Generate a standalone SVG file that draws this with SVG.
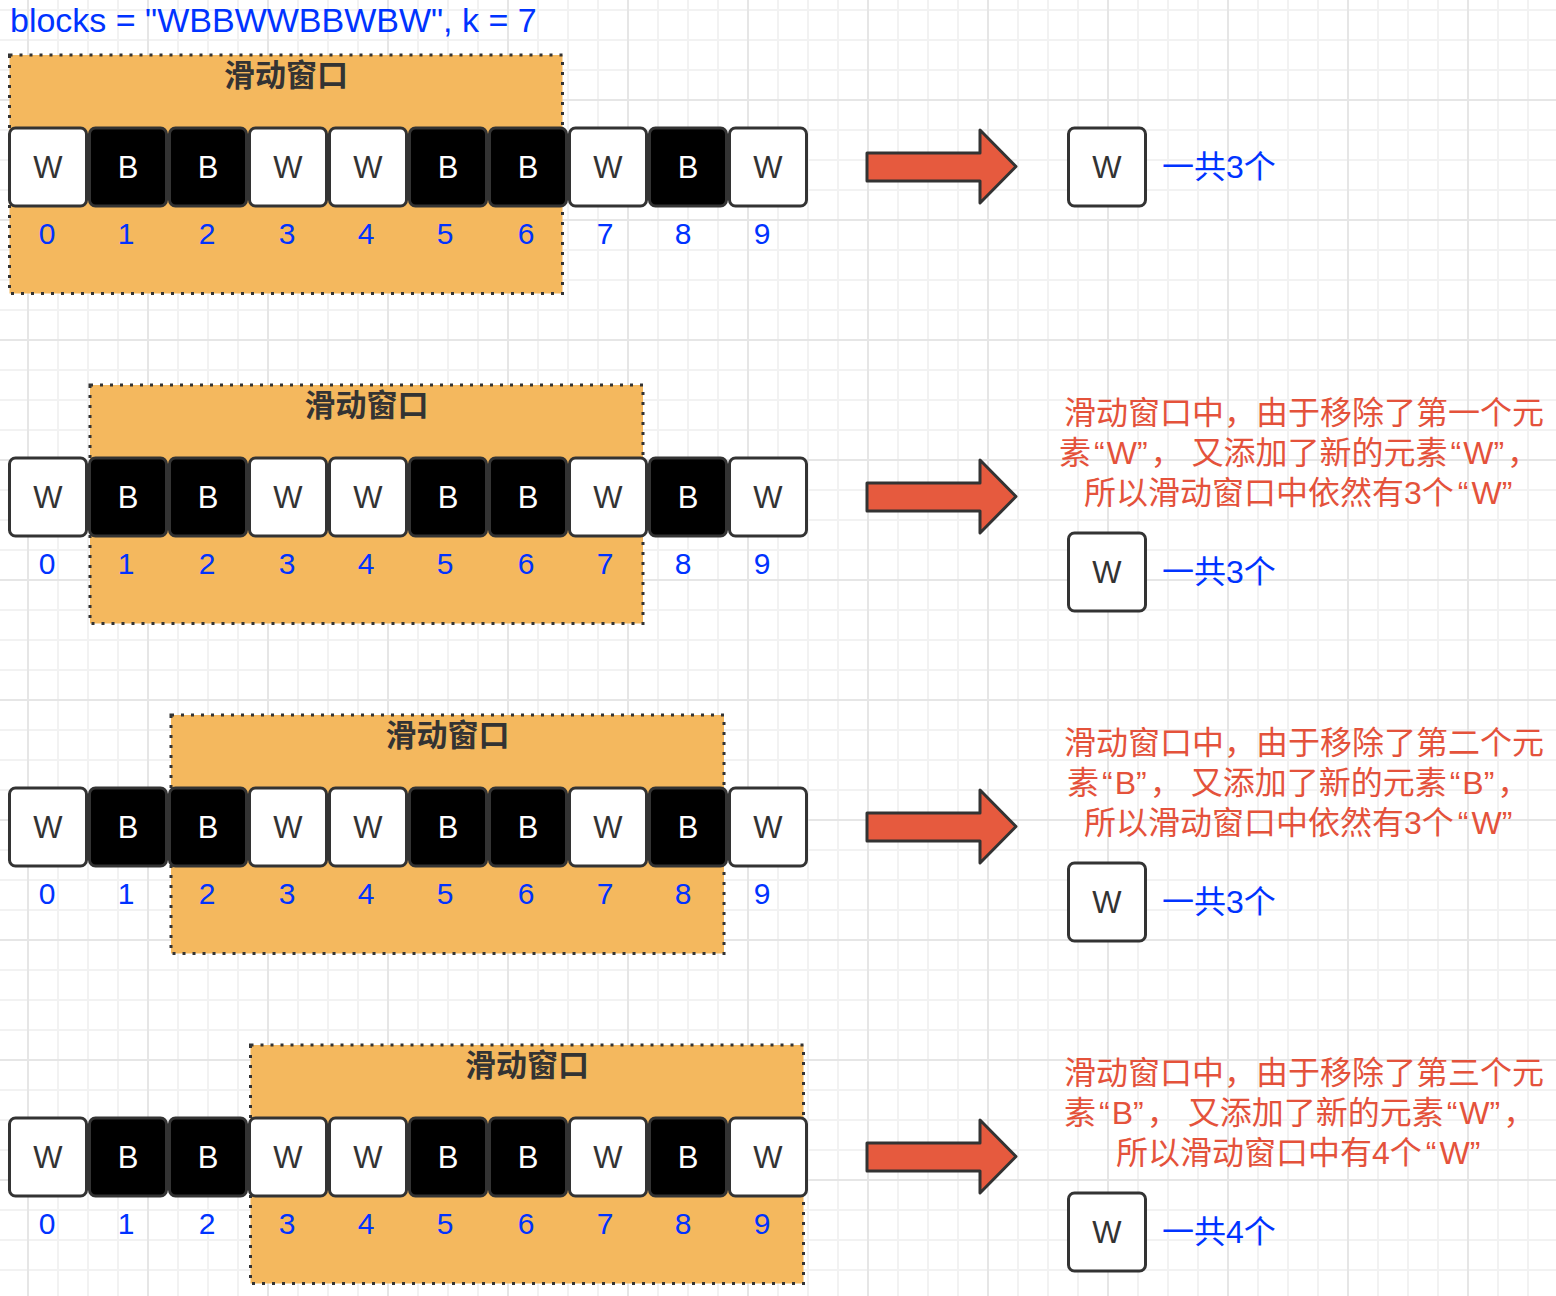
<svg xmlns="http://www.w3.org/2000/svg" width="1556" height="1296" viewBox="0 0 1556 1296">
<defs>
<style>
.win{fill:#f4b85e;stroke:#333;stroke-width:3;stroke-dasharray:3 7}
.cw{fill:#fff;stroke:#333;stroke-width:3}
.cb{fill:#000;stroke:#333;stroke-width:3}
.lw{font-family:"Liberation Sans",Arial,sans-serif;font-size:31px;fill:#333;text-anchor:middle}
.lb{font-family:"Liberation Sans",Arial,sans-serif;font-size:31px;fill:#fff;text-anchor:middle}
.idx{font-family:"Liberation Sans",Arial,sans-serif;font-size:30px;fill:#0033ff;text-anchor:middle}
.wt{font-family:"Noto Sans CJK SC",sans-serif;font-size:31px;font-weight:bold;fill:#333;text-anchor:middle}
.red{font-family:"Liberation Sans","Noto Sans CJK SC",sans-serif;font-size:32px;fill:#e4523b}
.blue{font-family:"Liberation Sans","Noto Sans CJK SC",sans-serif;font-size:32px;fill:#0033ff}
.arr{fill:#e65a3e;stroke:#333;stroke-width:3;stroke-linejoin:round}
</style>
<pattern id="grid" patternUnits="userSpaceOnUse" x="27" y="99" width="120" height="120">
<rect x="30" y="0" width="2" height="120" fill="#f2f2f2"/>
<rect x="60" y="0" width="2" height="120" fill="#f2f2f2"/>
<rect x="90" y="0" width="2" height="120" fill="#f2f2f2"/>
<rect x="0" y="30" width="120" height="2" fill="#f2f2f2"/>
<rect x="0" y="60" width="120" height="2" fill="#f2f2f2"/>
<rect x="0" y="90" width="120" height="2" fill="#f2f2f2"/>
<rect x="0" y="0" width="2" height="120" fill="#e6e6e6"/>
<rect x="0" y="0" width="120" height="2" fill="#e6e6e6"/>
</pattern>
<g id="row">
<rect class="cw" x="9.5" y="128" width="77" height="78" rx="6"/>
<rect class="cb" x="89.5" y="128" width="77" height="78" rx="6"/>
<rect class="cb" x="169.5" y="128" width="77" height="78" rx="6"/>
<rect class="cw" x="249.5" y="128" width="77" height="78" rx="6"/>
<rect class="cw" x="329.5" y="128" width="77" height="78" rx="6"/>
<rect class="cb" x="409.5" y="128" width="77" height="78" rx="6"/>
<rect class="cb" x="489.5" y="128" width="77" height="78" rx="6"/>
<rect class="cw" x="569.5" y="128" width="77" height="78" rx="6"/>
<rect class="cb" x="649.5" y="128" width="77" height="78" rx="6"/>
<rect class="cw" x="729.5" y="128" width="77" height="78" rx="6"/>
<text class="lw" x="48" y="178">W</text>
<text class="lb" x="128" y="178">B</text>
<text class="lb" x="208" y="178">B</text>
<text class="lw" x="288" y="178">W</text>
<text class="lw" x="368" y="178">W</text>
<text class="lb" x="448" y="178">B</text>
<text class="lb" x="528" y="178">B</text>
<text class="lw" x="608" y="178">W</text>
<text class="lb" x="688" y="178">B</text>
<text class="lw" x="768" y="178">W</text>
<text class="idx" x="47" y="244">0</text>
<text class="idx" x="126" y="244">1</text>
<text class="idx" x="207" y="244">2</text>
<text class="idx" x="287" y="244">3</text>
<text class="idx" x="366" y="244">4</text>
<text class="idx" x="445" y="244">5</text>
<text class="idx" x="526" y="244">6</text>
<text class="idx" x="605" y="244">7</text>
<text class="idx" x="683" y="244">8</text>
<text class="idx" x="762" y="244">9</text>
</g>
<path id="arrowShape" class="arr" d="M867,153 L980,153 L980,130 L1016,166.5 L980,203 L980,181 L867,181 Z"/>
</defs>
<rect x="0" y="0" width="1556" height="1296" fill="#fff"/>
<rect x="0" y="0" width="1556" height="1296" fill="url(#grid)"/>
<text id="title" x="10" y="32" font-family="Liberation Sans, Arial, sans-serif" font-size="34" fill="#0033ff">blocks = "WBBWWBBWBW", k = 7</text>

<g id="step1">
<rect class="win" x="9.5" y="55" width="553" height="238.5"/>
<text class="wt" x="286" y="86">滑动窗口</text>
<use href="#row"/>
<rect class="cw" x="1068.5" y="128" width="77" height="78" rx="6"/>
<text class="lw" x="1107" y="178">W</text>
<text class="blue" x="1162" y="178">一共3个</text>
</g>

<g id="step2">
<rect class="win" x="90" y="385" width="553" height="238.5"/>
<text class="wt" x="366.5" y="416">滑动窗口</text>
<use href="#row" y="330"/>
<text class="red" x="1064" y="423.5">滑动窗口中，由于移除了第一个元</text>
<text class="red" x="1059" y="463.5">素<tspan dx="3">“</tspan><tspan dx="2">W</tspan>”<tspan dx="3">，</tspan><tspan dx="9">又添加了新的元素</tspan><tspan dx="3">“</tspan><tspan dx="2">W</tspan>”<tspan dx="3">，</tspan></text>
<text class="red" x="1084" y="503.5">所以滑动窗口中依然有3个<tspan dx="4">“</tspan><tspan dx="3">W</tspan>”</text>
<rect class="cw" x="1068.5" y="533" width="77" height="78" rx="6"/>
<text class="lw" x="1107" y="583">W</text>
<text class="blue" x="1162" y="583">一共3个</text>
</g>

<g id="step3">
<rect class="win" x="171" y="715" width="553" height="238.5"/>
<text class="wt" x="447.5" y="746">滑动窗口</text>
<use href="#row" y="660"/>
<text class="red" x="1064" y="753.5">滑动窗口中，由于移除了第二个元</text>
<text class="red" x="1067" y="793.5">素<tspan dx="3">“</tspan><tspan dx="2">B</tspan>”<tspan dx="3">，</tspan><tspan dx="9">又添加了新的元素</tspan><tspan dx="3">“</tspan><tspan dx="2">B</tspan>”<tspan dx="3">，</tspan></text>
<text class="red" x="1084" y="833.5">所以滑动窗口中依然有3个<tspan dx="4">“</tspan><tspan dx="3">W</tspan>”</text>
<rect class="cw" x="1068.5" y="863" width="77" height="78" rx="6"/>
<text class="lw" x="1107" y="913">W</text>
<text class="blue" x="1162" y="913">一共3个</text>
</g>

<g id="step4">
<rect class="win" x="250.5" y="1045" width="553" height="238.5"/>
<text class="wt" x="527" y="1076">滑动窗口</text>
<use href="#row" y="990"/>
<text class="red" x="1064" y="1083.5">滑动窗口中，由于移除了第三个元</text>
<text class="red" x="1064" y="1123.5">素<tspan dx="3">“</tspan><tspan dx="2">B</tspan>”<tspan dx="3">，</tspan><tspan dx="9">又添加了新的元素</tspan><tspan dx="3">“</tspan><tspan dx="2">W</tspan>”<tspan dx="3">，</tspan></text>
<text class="red" x="1116" y="1163.5">所以滑动窗口中有4个<tspan dx="4">“</tspan><tspan dx="3">W</tspan>”</text>
<rect class="cw" x="1068.5" y="1193" width="77" height="78" rx="6"/>
<text class="lw" x="1107" y="1243">W</text>
<text class="blue" x="1162" y="1243">一共4个</text>
</g>

<g id="connectors">
<use href="#arrowShape"/>
<use href="#arrowShape" y="330"/>
<use href="#arrowShape" y="660"/>
<use href="#arrowShape" y="990"/>
</g>
</svg>
